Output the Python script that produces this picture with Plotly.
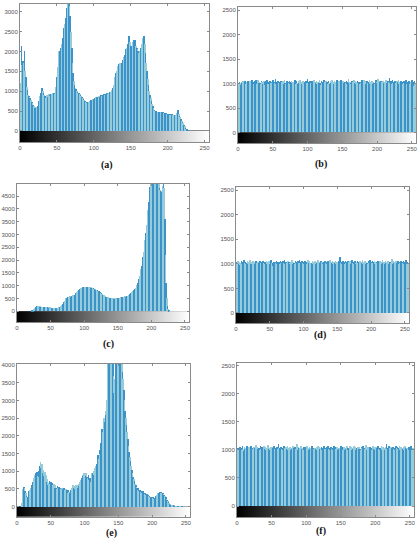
import plotly.graph_objects as go

# grey levels 0..255 (one bin each)
levels = list(range(256))

# (a) original image histogram
hist_a = [
    0, 1200, 2150, 1650, 1750, 1700, 2020, 1500, 1350, 1100, 1020, 900, 880, 850, 820, 780,
    740, 700, 660, 620, 590, 600, 580, 610, 620, 680, 760, 880, 950, 1060, 1080, 1000,
    960, 900, 870, 840, 880, 900, 860, 920, 900, 880, 940, 920, 900, 960, 950, 940,
    980, 1100, 1350, 1600, 1900, 2000, 2020, 2080, 2100, 2200, 2350, 2450, 2600, 2700, 2850, 2950,
    3100, 3250, 3300, 3150, 2900, 2500, 2100, 1700, 1450, 1250, 1150, 1080, 1050, 1000, 990, 960,
    950, 920, 900, 880, 860, 830, 800, 780, 760, 730, 720, 710, 730, 740, 750, 760,
    770, 780, 790, 800, 800, 820, 830, 850, 860, 850, 860, 870, 860, 880, 900, 890,
    900, 910, 920, 900, 930, 920, 950, 940, 960, 950, 970, 980, 990, 1020, 1080, 1150,
    1250, 1350, 1450, 1520, 1580, 1640, 1680, 1700, 1690, 1720, 1710, 1740, 1780, 1850, 1920, 2000,
    2050, 2100, 2200, 2300, 2400, 2250, 2150, 2100, 2150, 2250, 2280, 2200, 2290, 2150, 2100, 2050,
    2000, 1950, 1900, 2000, 2100, 2200, 2250, 2350, 2380, 2200, 1950, 1700, 1500, 1300, 1150, 1000,
    900, 820, 750, 680, 620, 570, 530, 510, 500, 490, 490, 480, 490, 480, 470, 480,
    470, 460, 470, 460, 450, 440, 450, 430, 430, 420, 430, 410, 420, 410, 420, 400,
    410, 400, 390, 400, 420, 460, 520, 430, 380, 340, 300, 260, 230, 200, 160, 120,
    80, 50, 30, 15, 5, 0, 0, 0, 0, 0, 0, 0, 0, 0, 0, 0,
    0, 0, 0, 0, 0, 0, 0, 0, 0, 0, 0, 0, 0, 0, 0, 0,
]

# (b) encrypted image histogram
hist_b = [
    1020, 995, 1040, 1005, 980, 1035, 1010, 1050, 990, 1025, 1060, 1000, 975, 1030, 1045, 1015,
    1005, 1055, 990, 1020, 1070, 1000, 1035, 985, 1050, 1010, 1065, 995, 1030, 1080, 1005, 1040,
    1015, 985, 1050, 1025, 1000, 1060, 1030, 975, 1045, 1010, 1075, 1000, 1035, 990, 1055, 1020,
    1040, 1005, 1065, 995, 1030, 1010, 1085, 1000, 1025, 980, 1050, 1015, 1040, 995, 1060, 1030,
    1010, 1045, 990, 1070, 1020, 1000, 1055, 975, 1035, 1015, 1060, 990, 1025, 1050, 1005, 1040,
    995, 1030, 1065, 1000, 1045, 1010, 985, 1055, 1020, 1075, 1000, 1035, 990, 1060, 1015, 1040,
    1025, 980, 1050, 1010, 1090, 1005, 1035, 995, 1060, 1020, 1045, 985, 1030, 1070, 1000, 1040,
    1015, 1055, 990, 1035, 1005, 1065, 1020, 980, 1050, 1010, 1040, 995, 1075, 1025, 1000, 1045,
    1030, 1000, 1060, 1015, 985, 1045, 1020, 1080, 1005, 1035, 990, 1055, 1010, 1040, 1070, 995,
    1020, 1050, 1000, 1035, 1065, 990, 1025, 1045, 1010, 975, 1040, 1015, 1060, 1000, 1030, 1085,
    1005, 1040, 1020, 990, 1055, 1030, 1000, 1070, 1015, 1045, 985, 1025, 1050, 1010, 1035, 995,
    1040, 1015, 1065, 1000, 1030, 1080, 1005, 1045, 990, 1020, 1060, 1010, 1035, 1075, 995, 1025,
    1010, 1055, 995, 1040, 1020, 1000, 1070, 1030, 1015, 1090, 1005, 1045, 1025, 985, 1050, 1035,
    1000, 1060, 1020, 1040, 1005, 1075, 1015, 995, 1050, 1030, 1110, 1010, 1045, 1000, 1065, 1020,
    1035, 1005, 1055, 1015, 990, 1045, 1025, 1080, 1000, 1040, 1060, 1010, 1030, 995, 1050, 1020,
    1045, 1010, 1070, 1000, 1035, 1020, 1055, 990, 1040, 1025, 1065, 1005, 1030, 960, 1050, 1015,
]

# (c) original image histogram
hist_c = [
    0, 0, 0, 0, 0, 0, 0, 0, 0, 0, 0, 0, 0, 0, 0, 0,
    0, 0, 0, 0, 0, 0, 20, 40, 60, 90, 110, 140, 160, 180, 190, 200,
    190, 200, 180, 190, 180, 170, 180, 170, 170, 160, 170, 160, 150, 160, 150, 150,
    140, 150, 140, 140, 130, 140, 130, 130, 120, 130, 120, 130, 130, 140, 150, 160,
    180, 200, 230, 260, 300, 340, 380, 420, 460, 500, 530, 550, 560, 570, 560, 580,
    570, 590, 600, 620, 600, 630, 650, 680, 710, 740, 770, 800, 830, 850, 870, 890,
    900, 920, 930, 940, 950, 960, 950, 960, 950, 960, 940, 950, 930, 940, 920, 930,
    900, 910, 890, 880, 870, 860, 850, 830, 820, 800, 780, 760, 740, 720, 700, 680,
    650, 630, 610, 590, 570, 560, 550, 540, 530, 520, 510, 510, 500, 500, 490, 500,
    490, 500, 490, 500, 510, 500, 510, 520, 530, 520, 540, 550, 540, 560, 550, 570,
    560, 580, 570, 590, 600, 610, 630, 650, 670, 690, 710, 740, 770, 800, 830, 850,
    880, 920, 970, 1030, 1100, 1180, 1270, 1380, 1500, 1640, 1780, 1940, 2120, 2330, 2560, 2800,
    3060, 3350, 3650, 3950, 4250, 4550, 4850, 5100, 5400, 5600, 5700, 5800, 5700, 5800, 5600, 5700,
    5500, 5400, 5200, 5000, 4800, 4750, 4700, 4680, 4650, 4900, 5300, 4800, 3600, 2200, 1100, 500,
    200, 80, 30, 10, 0, 0, 0, 0, 0, 0, 0, 0, 0, 0, 0, 0,
    0, 0, 0, 0, 0, 0, 0, 0, 0, 0, 0, 0, 0, 0, 0, 0,
]

# (d) encrypted image histogram
hist_d = [
    1030, 990, 1010, 1050, 1000, 1040, 985, 1025, 1060, 1005, 1035, 995, 1070, 1015, 1045, 1000,
    1020, 1065, 995, 1040, 1010, 1080, 1000, 1030, 990, 1055, 1020, 1045, 1005, 1035, 1060, 1010,
    1000, 1040, 1025, 980, 1050, 1015, 1035, 995, 1060, 1020, 1045, 1005, 1030, 1065, 990, 1040,
    1015, 1050, 1000, 1035, 1075, 1010, 1025, 960, 1045, 1005, 1040, 1020, 1055, 995, 1030, 1010,
    1045, 1000, 1060, 1025, 1035, 990, 1050, 1015, 1070, 1005, 1040, 1020, 1000, 1055, 1030, 1010,
    995, 1035, 1020, 1080, 1005, 1045, 1015, 990, 1060, 1025, 1040, 1000, 1050, 1010, 1075, 1020,
    1040, 1005, 1055, 1015, 1030, 995, 1065, 1020, 1045, 1000, 1035, 1070, 1010, 1050, 990, 1025,
    1010, 1050, 1000, 1040, 1020, 1060, 995, 1035, 1015, 1085, 1005, 1045, 1025, 980, 1055, 1030,
    1020, 1000, 1045, 1010, 1065, 1025, 1040, 995, 1050, 1015, 1030, 1075, 1005, 1040, 1020, 1055,
    1000, 1035, 1015, 1060, 995, 1045, 1025, 1010, 1050, 1030, 1150, 1020, 1040, 1000, 1065, 1015,
    1035, 1005, 1055, 1020, 1040, 990, 1060, 1030, 1010, 1050, 1000, 1045, 1075, 1015, 1035, 995,
    1050, 1020, 1000, 1040, 1065, 1010, 1030, 1055, 995, 1045, 1020, 1070, 1005, 1035, 1015, 1050,
    1005, 1045, 1025, 990, 1055, 1015, 1080, 1000, 1040, 1020, 1060, 1010, 1035, 1050, 995, 1030,
    1040, 1010, 1065, 1000, 1030, 1050, 1020, 1045, 1005, 1070, 1015, 1035, 990, 1055, 1025, 1040,
    1015, 1060, 1000, 1035, 1045, 1010, 1025, 1100, 1005, 1050, 1020, 1040, 995, 1065, 1010, 1030,
    1050, 1000, 1040, 1020, 1060, 1005, 1035, 1015, 1055, 990, 1045, 1025, 1070, 1000, 1030, 1010,
]

# (e) original image histogram
hist_e = [
    0, 0, 0, 0, 0, 0, 0, 100, 350, 500, 560, 520, 450, 380, 300, 260,
    280, 350, 450, 480, 420, 520, 600, 550, 700, 820, 760, 900, 950, 820, 980, 880,
    1000, 850, 1150, 1270, 1100, 1200, 950, 1050, 880, 980, 850, 900, 700, 780, 600, 680,
    720, 650, 700, 620, 680, 600, 560, 640, 520, 600, 540, 500, 580, 520, 560, 480,
    540, 500, 460, 540, 500, 450, 520, 480, 430, 500, 460, 400, 480, 420, 380, 460,
    460, 540, 480, 600, 520, 580, 500, 620, 560, 600, 520, 640, 580, 700, 640, 760,
    820, 900, 860, 950, 900, 960, 880, 940, 850, 800, 900, 750, 820, 700, 880, 950,
    950, 1000, 900, 1100, 1050, 1150, 1200, 1300, 1450, 1350, 1600, 1500, 1800, 2000, 2200, 2100,
    2300, 2500, 2400, 2700, 2600, 3000, 3500, 4100, 4500, 4200, 4600, 4400, 4300, 4500, 4200, 3700,
    3200, 3600, 4200, 4500, 4300, 4600, 4400, 4700, 4300, 4500, 4200, 4100, 3800, 3600, 3300, 3000,
    2700, 2500, 2300, 2100, 1900, 1700, 1550, 1400, 1300, 1150, 1050, 950, 850, 780, 720, 650,
    600, 560, 520, 480, 520, 450, 480, 420, 450, 400, 430, 380, 400, 350, 380, 330,
    350, 310, 330, 290, 300, 270, 280, 250, 270, 240, 260, 230, 250, 280, 300, 330,
    360, 380, 400, 380, 410, 390, 420, 380, 400, 350, 330, 290, 260, 220, 190, 160,
    130, 110, 90, 70, 60, 50, 40, 30, 25, 20, 15, 12, 10, 8, 6, 5,
    4, 3, 2, 1, 1, 0, 0, 0, 0, 0, 0, 0, 0, 0, 0, 0,
]

# (f) encrypted image histogram
hist_f = [
    1040, 1000, 1025, 990, 1050, 1015, 1035, 1005, 1060, 1020, 980, 1045, 1010, 1030, 1065, 1000,
    1015, 1050, 995, 1035, 1075, 1010, 1040, 1020, 1000, 1055, 1030, 1090, 1005, 1045, 1015, 1025,
    1035, 1005, 1060, 1020, 1045, 990, 1030, 1070, 1010, 1050, 1000, 1040, 1025, 1080, 1015, 1035,
    1000, 1045, 1015, 1055, 1030, 1005, 1065, 1020, 1040, 995, 1050, 1010, 1100, 1025, 1035, 1000,
    1050, 1020, 1040, 1000, 1060, 1030, 1010, 1045, 1020, 1070, 1005, 1035, 1015, 1055, 990, 1040,
    1010, 1065, 1030, 1000, 1045, 1015, 1035, 1110, 1005, 1050, 1025, 1040, 995, 1060, 1020, 1030,
    1045, 1000, 1055, 1020, 1035, 1075, 1010, 1040, 1000, 1050, 1015, 1030, 1065, 1005, 1040, 1020,
    1005, 1035, 1015, 1050, 990, 1060, 1025, 1045, 1010, 1030, 1055, 1000, 1040, 1020, 1070, 1015,
    1030, 1010, 1045, 1000, 1065, 1020, 1040, 995, 1050, 1015, 1035, 1005, 1060, 1025, 1045, 1010,
    1020, 1055, 1000, 1040, 1015, 1035, 1075, 1010, 1045, 990, 1030, 1050, 1005, 1040, 1020, 1060,
    1040, 1005, 1030, 1060, 1015, 1045, 1000, 1035, 1020, 1070, 1010, 1050, 995, 1040, 1025, 1055,
    1010, 1045, 1020, 1000, 1050, 1030, 1065, 1005, 1040, 1015, 1035, 1080, 1000, 1045, 1025, 1030,
    1050, 1015, 1040, 1005, 1035, 1060, 1020, 1045, 1000, 1055, 1030, 1010, 1070, 1020, 1040, 995,
    1025, 1060, 1000, 1045, 1015, 1035, 1005, 1050, 1100, 1020, 1040, 1010, 1065, 1030, 1000, 1045,
    1035, 1010, 1055, 1020, 1040, 1000, 1070, 1025, 1045, 1015, 1035, 1060, 1005, 1050, 1020, 1030,
    1015, 1045, 1000, 1060, 1025, 1040, 1010, 1035, 1055, 1005, 1045, 1020, 1065, 1000, 1040, 1025,
]

histograms = [hist_a, hist_b, hist_c, hist_d, hist_e, hist_f]
panel_labels = ["(a)", "(b)", "(c)", "(d)", "(e)", "(f)"]
x_ticks = [0, 50, 100, 150, 200, 250]
y_tick_max = [3000, 2500, 4500, 2500, 4000, 2500]

W, H = 419, 550
# plot boxes in pixels: left, top, right, bottom
boxes = [
    (20, 4, 209, 142),
    (238, 7, 416, 143),
    (17, 184, 189, 322),
    (236, 187, 409, 323),
    (17, 364, 190, 517),
    (237, 363, 414, 517),
]
# y axis ranges (bottom part holds the grey-level strip)
y_ranges = [
    (-277, 3194),
    (-216, 2567),
    (-419, 4970),
    (-204, 2567),
    (-291, 4028),
    (-195, 2546),
]
# label centres in pixels
label_pos = [(107, 165), (321, 164), (108, 344), (320, 335), (111, 533), (321, 531)]

bar_colors = ["#3b93c9" if i % 2 == 0 else "#96cbd9" for i in levels]
edges = list(range(257))

fig = go.Figure()
layout = {}
for i, vals in enumerate(histograms):
    n = "" if i == 0 else str(i + 1)
    l, t, r, b = boxes[i]
    lo, hi = y_ranges[i]
    # grey-level strip below zero
    fig.add_trace(go.Heatmap(
        x=edges, y=[lo, 0], z=[levels],
        colorscale=[[0, "#000000"], [1, "#ffffff"]],
        zmin=0, zmax=255, showscale=False, hoverinfo="skip",
        xaxis="x" + n, yaxis="y" + n))
    fig.add_trace(go.Bar(
        x=levels, y=vals, width=1,
        marker=dict(color=bar_colors, line=dict(width=0)),
        showlegend=False, xaxis="x" + n, yaxis="y" + n))
    axis_common = dict(
        showline=True, linecolor="#8a8a8a", linewidth=1, mirror="ticks",
        ticks="inside", ticklen=2, tickcolor="#8a8a8a", showgrid=False,
        automargin=False,
        tickfont=dict(family="Liberation Sans, Arial", size=6, color="#555555"),
    )
    layout["xaxis" + n] = dict(
        axis_common, domain=[l / W, r / W], range=[0, 256], anchor="y" + n,
        tickvals=x_ticks, zeroline=False)
    layout["yaxis" + n] = dict(
        axis_common, domain=[1 - b / H, 1 - t / H], range=[lo, hi], anchor="x" + n,
        tickvals=list(range(0, y_tick_max[i] + 1, 500)),
        zeroline=True, zerolinecolor="#8a8a8a", zerolinewidth=1)

annotations = []
for (px, py), txt in zip(label_pos, panel_labels):
    annotations.append(dict(
        x=px / W, y=1 - py / H, xref="paper", yref="paper", text="<b>" + txt + "</b>",
        showarrow=False, font=dict(family="Liberation Serif, Times New Roman", size=10, color="#111111"),
        xanchor="center", yanchor="middle"))

fig.update_layout(
    width=W, height=H, margin=dict(l=0, r=0, t=0, b=0),
    paper_bgcolor="white", plot_bgcolor="white",
    bargap=0, showlegend=False, annotations=annotations, **layout)

# drop the default page margin so the figure sits at the window's corner
fig.write_html("out.html", config={"displayModeBar": False},
               post_script="document.body.style.margin='0';")
